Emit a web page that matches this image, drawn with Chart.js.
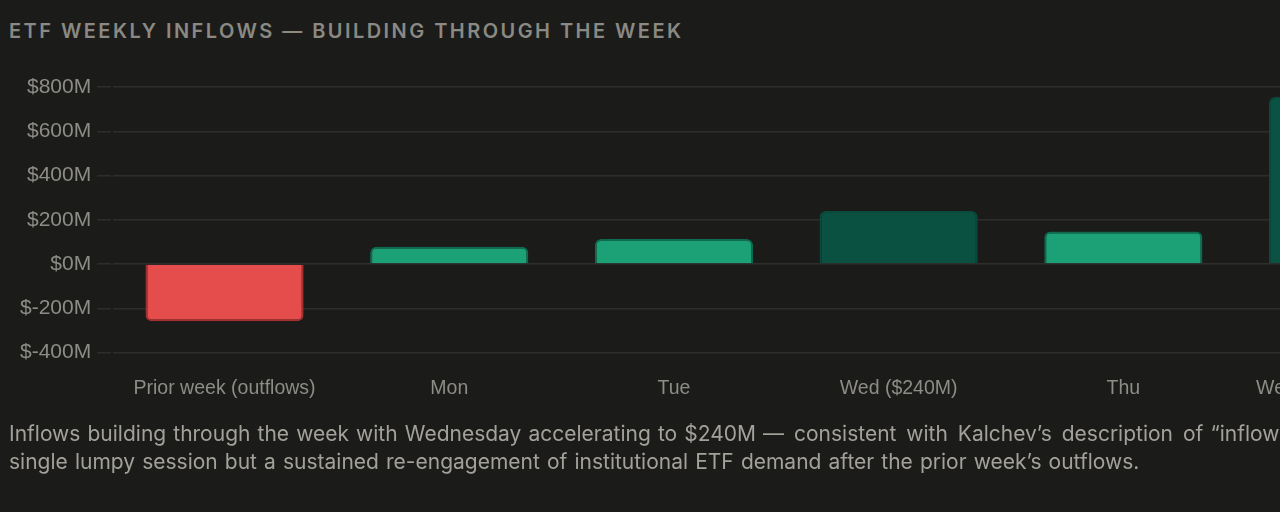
<!DOCTYPE html>
<html>
<head>
<meta charset="utf-8">
<script src="https://cdn.jsdelivr.net/npm/chart.js@4"></script>
<style>
  html, body { margin: 0; padding: 0; background: #1b1b1a; overflow: hidden; width: 1280px; height: 512px; }
  #wrap { position: absolute; left: 9px; top: 0; width: 1455px; }
  h1 { position: absolute; top: 20px; left: 0; margin: 0; white-space: nowrap;
       font: 600 20px/22px Inter, sans-serif; letter-spacing: 2.45px; color: #8a8983; }
  #box { position: absolute; top: 67px; left: 0; width: 1455px; height: 357px; }
  p { position: absolute; top: 420px; left: 0; width: 1600px; margin: 0; white-space: nowrap;
      font: 400 21px/28px Inter, sans-serif; word-spacing: 1.2px; color: #a3a19a; }
  p .mid { word-spacing: 4px; }
</style>
</head>
<body>
<div id="wrap">
  <h1>ETF WEEKLY INFLOWS — BUILDING THROUGH THE WEEK</h1>
  <div id="box"><canvas id="flowChart"></canvas></div>
  <p>Inflows building through the week with Wednesday accelerating to $240M <span class="mid">— consistent with Kalchev’s description of</span> “inflows” not a<br>single lumpy session but a sustained re-engagement of institutional ETF demand after the prior week’s outflows.</p>
</div>
<script>
// values in $M
const days = ["Prior week (outflows)", "Mon", "Tue", "Wed ($240M)", "Thu", "Weekly total ($755M)"];
const flows = [-258, 78, 113, 240, 147, 755];
const fills = ["#e54c4c", "#1ca176", "#1ca176", "#0a5142", "#1ca176", "#0a5344"];
const edges = ["#a32f2f", "#0e6a51", "#0e6a51", "#0a4a3d", "#0e6a51", "#0a4a3d"];
const yTicks = [-400, -200, 0, 200, 400, 600, 800];

const ctx = document.getElementById("flowChart").getContext("2d");

const flowChart = new Chart(ctx, {
  type: "bar",
  data: {
    labels: days,
    datasets: [
      {
        data: flows,
        backgroundColor: fills,
        borderColor: edges,
        borderWidth: 2,
        borderRadius: 6,
        barPercentage: 0.8,
        categoryPercentage: 0.88,
      },
    ],
  },
  options: {
    responsive: true,
    maintainAspectRatio: false,
    animation: false,
    layout: { padding: { top: 20, left: 5, right: 0, bottom: 0 } },
    plugins: { legend: { display: false }, tooltip: { enabled: false } },
    scales: {
      x: {
        grid: { display: false, drawTicks: false },
        border: { display: false },
        ticks: {
          color: "#8d8c86",
          padding: 24,
          font: { family: "Liberation Sans", size: 19.5 },
        },
      },
      y: {
        min: yTicks[0],
        max: yTicks[yTicks.length - 1],
        afterBuildTicks: (axis) => { axis.ticks = yTicks.map((v) => ({ value: v })); },
        grid: { color: "#2e2e2c", lineWidth: 1.5, tickLength: 15 },
        border: { display: true, color: "#1b1b1a", width: 2 },
        ticks: {
          color: "#8d8c86",
          padding: 6,
          font: { family: "Liberation Sans", size: 21 },
          callback: (v) => "$" + v + "M",
        },
      },
    },
  },
});
</script>
</body>
</html>
